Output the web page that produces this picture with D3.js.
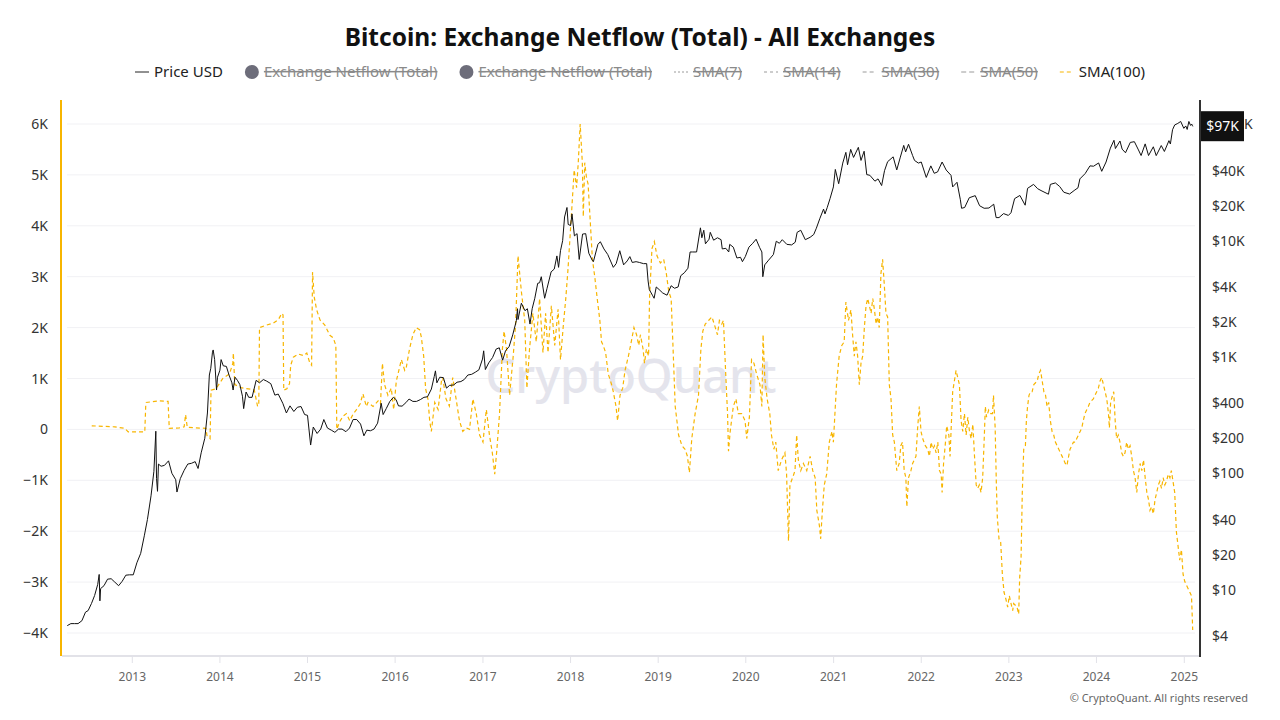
<!DOCTYPE html>
<html>
<head>
<meta charset="utf-8">
<script src="https://cdn.jsdelivr.net/npm/d3@7"></script>
<style>
  body { margin: 0; background: #fff; }
  svg { display: block; font-family: "Noto Sans", sans-serif; }
</style>
</head>
<body>
<svg id="chart" width="1280" height="720"></svg>
<script>
// BTC price (USD)
const priceUsd = [
  ["2012-04-05",4.9],["2012-04-20",5.1],["2012-05-05",5.1],["2012-05-20",5.1],["2012-06-05",5.4],["2012-06-20",6.4],
  ["2012-07-01",6.6],["2012-07-15",7.6],["2012-07-28",8.9],["2012-08-10",11.1],["2012-08-16",13.5],["2012-08-19",8.0],
  ["2012-08-22",10.2],["2012-09-05",10.8],["2012-09-20",12.3],["2012-10-05",12.4],["2012-10-20",11.6],["2012-11-05",10.8],
  ["2012-11-20",11.8],["2012-12-05",13.3],["2012-12-20",13.4],["2013-01-05",13.4],["2013-01-20",17],["2013-02-05",20.5],
  ["2013-02-20",29],["2013-03-05",40],["2013-03-20",64],["2013-04-01",104],["2013-04-09",230],["2013-04-12",90],
  ["2013-04-16",70],["2013-04-20",120],["2013-05-01",115],["2013-05-15",117],["2013-06-01",128],["2013-06-15",100],
  ["2013-07-01",88],["2013-07-06",69],["2013-07-20",90],["2013-08-05",106],["2013-08-20",120],["2013-09-05",122],
  ["2013-09-20",126],["2013-10-02",110],["2013-10-15",150],["2013-10-30",200],["2013-11-10",330],["2013-11-18",700],
  ["2013-11-24",800],["2013-12-01",1100],["2013-12-04",1150],["2013-12-10",950],["2013-12-18",520],["2013-12-22",670],
  ["2014-01-01",770],["2014-01-06",950],["2014-01-15",840],["2014-01-28",830],["2014-02-08",700],["2014-02-20",600],
  ["2014-02-25",520],["2014-03-05",670],["2014-03-15",630],["2014-03-25",580],["2014-04-05",460],["2014-04-10",360],
  ["2014-04-20",500],["2014-05-01",450],["2014-05-15",450],["2014-06-01",630],["2014-06-15",600],["2014-07-01",640],
  ["2014-07-15",620],["2014-08-01",590],["2014-08-18",470],["2014-09-01",480],["2014-09-20",400],["2014-10-05",330],
  ["2014-10-20",380],["2014-11-05",340],["2014-11-20",370],["2014-12-05",375],["2014-12-20",320],["2015-01-01",315],
  ["2015-01-14",175],["2015-01-25",250],["2015-02-10",220],["2015-02-25",240],["2015-03-10",290],["2015-03-25",245],
  ["2015-04-10",235],["2015-04-25",225],["2015-05-10",240],["2015-05-25",240],["2015-06-10",228],["2015-06-25",245],
  ["2015-07-10",290],["2015-07-25",290],["2015-08-10",265],["2015-08-24",210],["2015-09-05",235],["2015-09-20",232],
  ["2015-10-05",240],["2015-10-20",270],["2015-11-04",400],["2015-11-12",320],["2015-11-25",360],["2015-12-10",415],
  ["2015-12-25",450],["2016-01-05",430],["2016-01-15",380],["2016-01-30",378],["2016-02-15",405],["2016-02-28",435],
  ["2016-03-15",415],["2016-03-30",415],["2016-04-15",430],["2016-04-30",450],["2016-05-15",455],["2016-05-31",530],
  ["2016-06-12",680],["2016-06-17",760],["2016-06-23",600],["2016-07-05",670],["2016-07-20",665],["2016-08-02",540],
  ["2016-08-15",570],["2016-09-01",575],["2016-09-15",607],["2016-10-01",615],["2016-10-15",640],["2016-10-30",700],
  ["2016-11-15",710],["2016-11-30",740],["2016-12-15",775],["2016-12-30",960],["2017-01-04",1130],["2017-01-11",780],
  ["2017-01-25",890],["2017-02-10",990],["2017-02-25",1170],["2017-03-10",1200],["2017-03-24",940],["2017-04-05",1130],
  ["2017-04-20",1230],["2017-05-05",1550],["2017-05-20",2050],["2017-05-25",2600],["2017-05-27",2100],["2017-06-10",2900],
  ["2017-06-25",2500],["2017-07-05",2600],["2017-07-16",1920],["2017-07-25",2600],["2017-08-05",3200],["2017-08-17",4300],
  ["2017-08-25",4350],["2017-09-01",4900],["2017-09-15",3200],["2017-09-25",3900],["2017-10-12",5400],["2017-10-25",5700],
  ["2017-11-05",7400],["2017-11-12",5900],["2017-11-20",8200],["2017-11-29",10000],["2017-12-07",16000],["2017-12-17",19300],
  ["2017-12-22",13800],["2018-01-01",13500],["2018-01-07",17000],["2018-01-17",11000],["2018-01-28",11500],["2018-02-06",6900],
  ["2018-02-20",11400],["2018-03-05",11500],["2018-03-18",7800],["2018-04-01",6800],["2018-04-06",6600],["2018-04-25",9300],
  ["2018-05-05",9800],["2018-05-20",8500],["2018-06-05",7600],["2018-06-28",5900],["2018-07-10",6350],["2018-07-25",8200],
  ["2018-08-10",6200],["2018-08-25",6700],["2018-09-05",7300],["2018-09-15",6500],["2018-10-01",6600],["2018-10-15",6500],
  ["2018-11-01",6350],["2018-11-14",6350],["2018-11-20",4500],["2018-11-25",3800],["2018-12-08",3400],["2018-12-15",3200],
  ["2018-12-24",4000],["2019-01-05",3800],["2019-01-20",3550],["2019-02-07",3400],["2019-02-24",4100],["2019-03-10",3900],
  ["2019-03-25",4000],["2019-04-05",5000],["2019-04-20",5300],["2019-05-05",5800],["2019-05-14",8000],["2019-05-25",8000],
  ["2019-06-10",8000],["2019-06-26",12900],["2019-07-02",10600],["2019-07-10",12300],["2019-07-17",9400],["2019-08-01",10300],
  ["2019-08-06",11800],["2019-08-20",10100],["2019-09-05",10600],["2019-09-20",10200],["2019-09-25",8500],["2019-10-10",8600],
  ["2019-10-22",8000],["2019-10-26",9300],["2019-11-10",8800],["2019-11-25",7100],["2019-12-10",7200],["2019-12-18",6600],
  ["2019-12-30",7300],["2020-01-14",8800],["2020-01-30",9500],["2020-02-13",10300],["2020-02-28",8700],["2020-03-08",8000],
  ["2020-03-12",4900],["2020-03-20",6200],["2020-04-05",6800],["2020-04-25",7600],["2020-05-07",9900],["2020-05-20",9500],
  ["2020-06-01",10200],["2020-06-20",9300],["2020-07-10",9200],["2020-07-25",9700],["2020-08-02",11800],["2020-08-17",12300],
  ["2020-09-05",10200],["2020-09-25",10700],["2020-10-10",11300],["2020-10-21",12800],["2020-11-05",15600],["2020-11-20",18700],
  ["2020-11-26",17000],["2020-12-05",19200],["2020-12-17",23000],["2020-12-31",29000],["2021-01-08",41000],["2021-01-22",30900],
  ["2021-02-08",46500],["2021-02-21",57500],["2021-02-28",45000],["2021-03-13",61000],["2021-03-25",52000],["2021-04-14",63500],
  ["2021-04-25",49000],["2021-05-08",58800],["2021-05-19",37000],["2021-06-01",36500],["2021-06-22",32500],["2021-07-05",34000],
  ["2021-07-20",29800],["2021-08-01",40000],["2021-08-14",47800],["2021-09-06",52600],["2021-09-21",40600],["2021-10-05",51500],
  ["2021-10-20",66000],["2021-10-28",58000],["2021-11-09",67500],["2021-11-26",54000],["2021-12-04",49000],["2021-12-20",46500],
  ["2022-01-01",47500],["2022-01-22",35000],["2022-02-10",44000],["2022-02-24",38000],["2022-03-10",39000],["2022-03-29",47500],
  ["2022-04-15",40500],["2022-05-05",36500],["2022-05-12",29000],["2022-05-30",31800],["2022-06-13",22500],["2022-06-18",19000],
  ["2022-07-01",19300],["2022-07-20",23400],["2022-08-14",24400],["2022-09-01",20000],["2022-09-20",19000],["2022-10-10",19100],
  ["2022-10-30",20600],["2022-11-09",15800],["2022-11-21",15800],["2022-12-10",17100],["2022-12-30",16500],["2023-01-10",17400],
  ["2023-01-25",23000],["2023-02-16",24500],["2023-03-10",20200],["2023-03-20",28200],["2023-04-14",30500],["2023-05-01",28000],
  ["2023-05-15",27000],["2023-06-15",25100],["2023-06-23",30500],["2023-07-14",31400],["2023-08-01",29200],["2023-08-18",26100],
  ["2023-09-11",25200],["2023-09-30",27000],["2023-10-16",28500],["2023-10-24",34000],["2023-11-15",37800],["2023-12-05",44000],
  ["2023-12-20",43700],["2024-01-10",46600],["2024-01-23",39500],["2024-02-10",47500],["2024-02-28",62500],["2024-03-14",73000],
  ["2024-03-20",62000],["2024-04-08",72000],["2024-04-17",61300],["2024-05-01",57000],["2024-05-21",70000],["2024-06-07",71000],
  ["2024-06-24",60300],["2024-07-05",54000],["2024-07-22",68000],["2024-08-05",54000],["2024-08-25",64200],["2024-09-06",53900],
  ["2024-09-27",65800],["2024-10-10",58500],["2024-10-29",72500],["2024-11-04",67800],["2024-11-13",90000],["2024-11-22",98900],
  ["2024-12-05",102000],["2024-12-17",106000],["2024-12-30",92500],["2025-01-07",97000],["2025-01-13",90500],["2025-01-20",106000],
  ["2025-01-27",98000],["2025-02-01",100700],["2025-02-03",97500],["2025-02-07",96500]
];

// Exchange Netflow (Total) SMA(100), BTC
const netflowSma100 = [
  ["2012-07-16",70],["2012-10-20",50],["2012-12-01",20],["2012-12-15",-50],["2013-02-22",-50],["2013-02-26",470],
  ["2013-02-28",530],["2013-04-25",560],["2013-05-30",550],["2013-06-04",20],["2013-07-16",30],["2013-08-05",50],
  ["2013-08-11",290],["2013-08-18",40],["2013-11-04",20],["2013-11-08",-120],["2013-11-21",-180],["2013-11-25",770],
  ["2013-12-16",800],["2014-01-13",1000],["2014-02-10",1090],["2014-02-24",1300],["2014-02-26",1500],["2014-03-04",880],
  ["2014-03-30",820],["2014-04-20",800],["2014-05-24",780],["2014-06-07",450],["2014-06-12",500],["2014-06-15",2000],
  ["2014-07-15",2050],["2014-08-12",2090],["2014-09-02",2160],["2014-09-16",2280],["2014-09-21",2250],["2014-09-24",770],
  ["2014-10-07",800],["2014-10-18",900],["2014-10-23",1260],["2014-11-03",1420],["2014-11-24",1480],["2014-12-15",1450],
  ["2014-12-29",1500],["2015-01-11",1300],["2015-01-18",1260],["2015-01-22",3090],["2015-01-29",2600],["2015-02-08",2350],
  ["2015-02-22",2150],["2015-03-14",2050],["2015-04-04",1850],["2015-04-18",1800],["2015-04-29",1650],["2015-05-03",0],
  ["2015-05-15",150],["2015-05-29",260],["2015-06-12",310],["2015-06-26",170],["2015-07-10",300],["2015-07-24",390],
  ["2015-08-08",500],["2015-08-20",700],["2015-09-03",450],["2015-09-10",530],["2015-10-01",450],["2015-10-22",560],
  ["2015-11-01",500],["2015-11-09",1300],["2015-11-18",880],["2015-12-02",670],["2015-12-16",810],["2015-12-26",390],
  ["2016-01-06",950],["2016-01-27",1370],["2016-02-10",1160],["2016-02-17",1230],["2016-03-01",1580],["2016-03-15",1860],
  ["2016-03-29",2000],["2016-04-12",1960],["2016-04-19",1820],["2016-04-29",1440],["2016-05-07",800],["2016-05-17",590],
  ["2016-05-24",170],["2016-05-31",-40],["2016-06-14",530],["2016-06-28",390],["2016-07-12",950],["2016-07-17",1020],
  ["2016-07-31",600],["2016-08-14",460],["2016-08-28",1020],["2016-09-11",600],["2016-09-25",170],["2016-10-09",-40],
  ["2016-10-23",30],["2016-11-06",0],["2016-11-20",600],["2016-12-04",310],["2016-12-18",-110],["2017-01-01",-250],
  ["2017-01-15",390],["2017-01-28",-110],["2017-02-09",-460],["2017-02-19",-880],["2017-02-28",-390],["2017-03-11",310],
  ["2017-03-23",1580],["2017-03-30",1930],["2017-04-09",1580],["2017-04-16",1090],["2017-04-22",670],["2017-05-07",1440],
  ["2017-05-17",2070],["2017-05-27",3410],["2017-06-10",2710],["2017-06-24",2140],["2017-07-03",810],["2017-07-14",1580],
  ["2017-07-28",2280],["2017-08-11",1720],["2017-08-25",2570],["2017-09-08",1510],["2017-09-19",2280],["2017-09-29",1510],
  ["2017-10-13",2430],["2017-10-27",1650],["2017-11-10",2360],["2017-11-20",1370],["2017-12-01",2000],["2017-12-12",2570],
  ["2017-12-21",3130],["2018-01-05",4250],["2018-01-16",5100],["2018-01-26",4750],["2018-02-02",5240],["2018-02-10",6000],
  ["2018-02-19",5240],["2018-02-23",4180],["2018-03-01",5240],["2018-03-08",4960],["2018-03-15",4820],["2018-03-22",4250],
  ["2018-04-02",3340],["2018-04-12",2990],["2018-04-22",2570],["2018-05-03",2140],["2018-05-10",1720],["2018-05-17",1650],
  ["2018-05-27",1510],["2018-06-07",1090],["2018-06-21",880],["2018-06-28",740],["2018-07-09",460],["2018-07-16",170],
  ["2018-07-26",670],["2018-08-06",810],["2018-08-16",1160],["2018-08-30",1440],["2018-09-10",1700],["2018-09-22",2000],
  ["2018-10-03",1860],["2018-10-12",1650],["2018-10-19",1860],["2018-10-30",1580],["2018-11-05",1300],["2018-11-13",1580],
  ["2018-11-22",1440],["2018-11-26",2570],["2018-12-06",3550],["2018-12-16",3690],["2018-12-27",3410],["2019-01-10",3270],
  ["2019-01-24",3340],["2019-02-04",3060],["2019-02-14",2710],["2019-02-24",2570],["2019-03-03",1720],["2019-03-13",450],
  ["2019-03-27",-110],["2019-04-10",-320],["2019-04-23",-390],["2019-05-03",-530],["2019-05-11",-850],["2019-05-21",-180],
  ["2019-06-04",310],["2019-06-18",670],["2019-06-28",1580],["2019-07-06",1930],["2019-07-16",2070],["2019-07-30",2140],
  ["2019-08-13",2210],["2019-08-27",2000],["2019-09-05",1860],["2019-09-13",2140],["2019-09-23",2070],["2019-09-30",2140],
  ["2019-10-10",1020],["2019-10-17",310],["2019-10-21",-430],["2019-10-28",-40],["2019-11-10",450],["2019-11-21",600],
  ["2019-12-01",310],["2019-12-15",310],["2019-12-29",170],["2020-01-05",-180],["2020-01-16",240],["2020-01-25",1370],
  ["2020-02-04",1300],["2020-02-15",1090],["2020-02-29",880],["2020-03-08",450],["2020-03-13",1860],["2020-03-20",1020],
  ["2020-03-30",600],["2020-04-10",310],["2020-04-17",-110],["2020-04-27",-390],["2020-05-05",-250],["2020-05-15",-810],
  ["2020-05-29",-600],["2020-06-12",-460],["2020-06-19",-880],["2020-06-27",-2190],["2020-07-03",-1090],["2020-07-14",-950],
  ["2020-07-24",-810],["2020-07-31",-110],["2020-08-07",-600],["2020-08-17",-810],["2020-08-28",-670],["2020-09-11",-810],
  ["2020-09-25",-530],["2020-10-06",-810],["2020-10-16",-950],["2020-10-23",-1590],["2020-11-03",-1900],["2020-11-08",-2150],
  ["2020-11-15",-1600],["2020-11-23",-1090],["2020-12-03",-880],["2020-12-14",-250],["2020-12-25",-40],["2020-12-31",-250],
  ["2021-01-08",450],["2021-01-13",880],["2021-01-24",1440],["2021-02-04",1650],["2021-02-14",1720],["2021-02-21",2500],
  ["2021-03-04",2140],["2021-03-14",2350],["2021-03-21",1860],["2021-03-28",1440],["2021-04-04",1720],["2021-04-11",1440],
  ["2021-04-18",880],["2021-04-25",1300],["2021-05-02",1440],["2021-05-09",2000],["2021-05-16",2430],["2021-05-23",2570],
  ["2021-05-30",2430],["2021-06-06",2280],["2021-06-13",2570],["2021-06-20",2350],["2021-06-27",2070],["2021-07-03",2210],
  ["2021-07-10",2000],["2021-07-17",3060],["2021-07-24",3340],["2021-07-31",2850],["2021-08-07",2280],["2021-08-14",2210],
  ["2021-08-21",880],["2021-08-28",600],["2021-09-04",-110],["2021-09-11",-250],["2021-09-21",-810],["2021-10-01",-670],
  ["2021-10-08",-320],["2021-10-15",-250],["2021-10-22",-810],["2021-10-29",-950],["2021-11-02",-1520],["2021-11-09",-950],
  ["2021-11-19",-810],["2021-11-26",-670],["2021-12-10",-530],["2021-12-17",30],["2021-12-24",450],["2021-12-31",-40],
  ["2022-01-07",-180],["2022-01-18",-320],["2022-01-28",-390],["2022-02-04",-530],["2022-02-11",-250],["2022-02-18",-390],
  ["2022-02-25",-320],["2022-03-04",-460],["2022-03-11",-250],["2022-03-18",-810],["2022-03-25",-880],["2022-03-29",-1240],
  ["2022-04-04",-670],["2022-04-12",-250],["2022-04-17",70],["2022-04-26",-110],["2022-05-01",-530],["2022-05-07",170],
  ["2022-05-12",740],["2022-05-19",950],["2022-05-26",1160],["2022-06-02",1020],["2022-06-09",880],["2022-06-16",170],
  ["2022-06-23",-40],["2022-06-30",310],["2022-07-07",-110],["2022-07-14",240],["2022-07-21",-40],["2022-07-28",-180],
  ["2022-08-04",100],["2022-08-11",-530],["2022-08-18",-1090],["2022-08-24",-1160],["2022-08-31",-1090],["2022-09-07",-1240],
  ["2022-09-14",-950],["2022-09-21",-110],["2022-09-25",450],["2022-09-30",240],["2022-10-09",380],["2022-10-18",310],
  ["2022-10-25",310],["2022-10-29",670],["2022-11-05",30],["2022-11-10",-1090],["2022-11-14",-1730],["2022-11-21",-2150],
  ["2022-11-28",-2220],["2022-12-05",-2850],["2022-12-12",-3200],["2022-12-20",-3340],["2022-12-27",-3490],["2023-01-03",-3270],
  ["2023-01-10",-3420],["2023-01-17",-3560],["2023-01-21",-3420],["2023-02-04",-3490],["2023-02-11",-3630],["2023-02-15",-2920],
  ["2023-02-21",-2500],["2023-02-26",-1240],["2023-03-04",-390],["2023-03-11",-320],["2023-03-15",170],["2023-03-20",450],
  ["2023-03-26",670],["2023-04-01",740],["2023-04-08",740],["2023-04-15",880],["2023-04-29",950],["2023-05-06",1090],
  ["2023-05-13",1160],["2023-05-20",950],["2023-05-27",740],["2023-06-03",670],["2023-06-09",450],["2023-06-16",530],
  ["2023-06-23",170],["2023-06-30",-40],["2023-07-07",-110],["2023-07-14",-250],["2023-07-21",-320],["2023-07-28",-390],
  ["2023-08-04",-460],["2023-08-11",-530],["2023-08-18",-600],["2023-08-24",-670],["2023-08-31",-710],["2023-09-07",-530],
  ["2023-09-13",-390],["2023-09-20",-320],["2023-09-27",-250],["2023-10-04",-250],["2023-10-11",-180],["2023-10-18",-110],
  ["2023-10-25",-40],["2023-11-01",30],["2023-11-07",170],["2023-11-14",310],["2023-11-21",380],["2023-11-28",450],
  ["2023-12-05",530],["2023-12-19",600],["2023-12-26",670],["2024-01-02",740],["2024-01-09",810],["2024-01-16",950],
  ["2024-01-23",1020],["2024-01-30",880],["2024-02-06",740],["2024-02-13",600],["2024-02-20",310],["2024-02-24",30],
  ["2024-02-29",530],["2024-03-08",670],["2024-03-13",740],["2024-03-19",170],["2024-03-25",-180],["2024-04-01",-110],
  ["2024-04-08",-250],["2024-04-15",-460],["2024-04-22",-530],["2024-04-29",-460],["2024-05-06",-250],["2024-05-13",-390],
  ["2024-05-20",-320],["2024-05-27",-530],["2024-06-03",-810],["2024-06-10",-950],["2024-06-17",-1240],["2024-06-24",-880],
  ["2024-07-01",-670],["2024-07-08",-810],["2024-07-15",-600],["2024-07-22",-950],["2024-07-29",-1240],["2024-08-05",-1380],
  ["2024-08-11",-1590],["2024-08-18",-1520],["2024-08-25",-1660],["2024-09-01",-1380],["2024-09-08",-1240],["2024-09-15",-1090],
  ["2024-09-21",-1020],["2024-09-28",-1160],["2024-10-05",-950],["2024-10-12",-1090],["2024-10-19",-1020],["2024-10-26",-880],
  ["2024-11-02",-950],["2024-11-08",-810],["2024-11-15",-1020],["2024-11-22",-1240],["2024-11-29",-2010],["2024-12-06",-2290],
  ["2024-12-13",-2570],["2024-12-20",-2360],["2024-12-27",-2850],["2025-01-03",-2990],["2025-01-10",-3060],["2025-01-17",-3130],
  ["2025-01-24",-3200],["2025-01-31",-3270],["2025-02-05",-3940]
];

const flowTicks = [-4000, -3000, -2000, -1000, 0, 1000, 2000, 3000, 4000, 5000, 6000];
const priceTicks = [4, 10, 20, 40, 100, 200, 400, 1000, 2000, 4000, 10000, 20000, 40000, 100000];
const yearTicks = ["2013","2014","2015","2016","2017","2018","2019","2020","2021","2022","2023","2024","2025"];
const legendNames = ["Price USD", "Exchange Netflow (Total)", "Exchange Netflow (Total)", "SMA(7)", "SMA(14)", "SMA(30)", "SMA(50)", "SMA(100)"];
const legendKinds = ["line", "dot", "dot", "dash", "dash", "dash", "dash", "dash"];
const legendDashes = [null, null, null, "2,2", "3,3", "4,3", "5,3", "4,3"];
const legendOn = [true, false, false, false, false, false, false, true];

const ORANGE = "#f7b500";
const svg = d3.select("#chart");
const W = 1280, H = 720;
const plot = { left: 62, right: 1199, top: 100, bottom: 656 };

const parse = d3.utcParse("%Y-%m-%d");
const x = d3.scaleUtc()
  .domain([parse("2013-01-01"), parse("2025-01-01")])
  .range([132.3, 1184.3]);
const yFlow = d3.scaleLinear().domain([-4000, 6000]).range([633, 124]);
const yPrice = d3.scaleLog().domain([10, 10000]).range([589.6, 240.7]);

// title
svg.append("text")
  .attr("x", W / 2).attr("y", 46)
  .attr("text-anchor", "middle")
  .attr("font-size", 24.5).attr("font-weight", 700).attr("fill", "#111")
  .text("Bitcoin: Exchange Netflow (Total) - All Exchanges");

// legend
const legend = svg.append("g");
let lx = 0;
legendNames.forEach((name, i) => {
  const g = legend.append("g").attr("transform", `translate(${lx},0)`);
  const sw = 19;
  if (legendKinds[i] === "dot") {
    g.append("circle").attr("cx", 7).attr("cy", 0).attr("r", 7).attr("fill", "#6d6d7a");
  } else {
    g.append("line").attr("x1", 0).attr("x2", 14).attr("y1", 0).attr("y2", 0)
      .attr("stroke", i === 0 ? "#222" : (legendOn[i] ? ORANGE : "#9a9a9a"))
      .attr("stroke-width", 1)
      .attr("stroke-dasharray", legendDashes[i]);
  }
  const t = g.append("text").attr("x", sw).attr("y", 5)
    .attr("font-size", 15)
    .attr("fill", legendOn[i] ? "#222" : "#8a8a8a")
    .style("text-decoration", legendOn[i] ? "none" : "line-through")
    .text(name);
  lx += sw + t.node().getComputedTextLength() + 22;
});
legend.attr("transform", `translate(${(W - (lx - 22)) / 2},72)`);

// grid
svg.append("g").selectAll("line").data(flowTicks).join("line")
  .attr("x1", 67).attr("x2", 1195)
  .attr("y1", d => yFlow(d)).attr("y2", d => yFlow(d))
  .attr("stroke", "#f1f1f4").attr("stroke-width", 1);

// watermark
svg.append("text")
  .attr("x", 631).attr("y", 393)
  .attr("text-anchor", "middle")
  .attr("font-size", 47).attr("font-weight", 500)
  .attr("fill", "#e4e4ec")
  .text("CryptoQuant");

// bottom axis
const xAxis = svg.append("g").attr("transform", `translate(0,${plot.bottom})`);
xAxis.append("line").attr("x1", plot.left).attr("x2", plot.right)
  .attr("stroke", "#d8d8e0").attr("stroke-width", 1.5);
xAxis.selectAll("line.tick").data(yearTicks).join("line").attr("class", "tick")
  .attr("x1", d => x(parse(d + "-01-01"))).attr("x2", d => x(parse(d + "-01-01")))
  .attr("y1", 0).attr("y2", 7).attr("stroke", "#e2e2e8");
xAxis.selectAll("text").data(yearTicks).join("text")
  .attr("x", d => x(parse(d + "-01-01"))).attr("y", 25)
  .attr("text-anchor", "middle").attr("font-size", 12).attr("fill", "#666")
  .text(d => d);

// left axis
svg.append("line").attr("x1", 61).attr("x2", 61).attr("y1", plot.top).attr("y2", plot.bottom)
  .attr("stroke", ORANGE).attr("stroke-width", 2);
svg.append("g").selectAll("text").data(flowTicks).join("text")
  .attr("x", 48).attr("y", d => yFlow(d) + 5)
  .attr("text-anchor", "end").attr("font-size", 14).attr("fill", "#333")
  .text(d => d === 0 ? "0" : d3.format("d")(d / 1000) + "K");

// right axis
svg.append("line").attr("x1", 1200).attr("x2", 1200).attr("y1", plot.top).attr("y2", plot.bottom + 1)
  .attr("stroke", "#333").attr("stroke-width", 2);
svg.append("g").selectAll("text").data(priceTicks).join("text")
  .attr("x", 1212).attr("y", d => yPrice(d) + 5)
  .attr("font-size", 14).attr("fill", "#333")
  .text(d => "$" + (d >= 1000 ? d / 1000 + "K" : d));

// series
svg.append("clipPath").attr("id", "clip").append("rect")
  .attr("x", plot.left).attr("y", plot.top)
  .attr("width", plot.right - plot.left).attr("height", plot.bottom - plot.top);
const series = svg.append("g").attr("clip-path", "url(#clip)");

series.append("path")
  .datum(netflowSma100)
  .attr("fill", "none").attr("stroke", ORANGE).attr("stroke-width", 1.2)
  .attr("stroke-dasharray", "4,3")
  .attr("d", d3.line().x(d => x(parse(d[0]))).y(d => yFlow(d[1])));

series.append("path")
  .datum(priceUsd)
  .attr("fill", "none").attr("stroke", "#111").attr("stroke-width", 1)
  .attr("d", d3.line().x(d => x(parse(d[0]))).y(d => yPrice(d[1])));

// last price marker (sits over the $100K tick, as in the source chart)
const last = priceUsd[priceUsd.length - 1];
const ly = yPrice(last[1]);
svg.append("rect").attr("x", 1201).attr("y", ly - 15).attr("width", 43).attr("height", 30).attr("fill", "#111");
svg.append("text").attr("x", 1222.5).attr("y", ly + 5).attr("text-anchor", "middle")
  .attr("font-size", 14).attr("fill", "#fff")
  .text("$" + Math.round(last[1] / 1000) + "K");

// footer
svg.append("text")
  .attr("x", 1248).attr("y", 702).attr("text-anchor", "end")
  .attr("font-size", 11).attr("fill", "#666")
  .text("\u00a9 CryptoQuant. All rights reserved");
</script>
</body>
</html>
